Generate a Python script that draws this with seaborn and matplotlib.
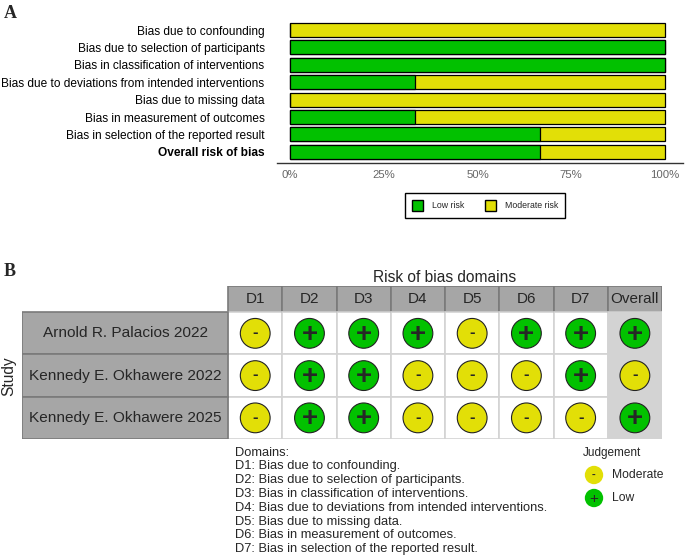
import numpy as np
import pandas as pd
import matplotlib
matplotlib.use('Agg')
import matplotlib.pyplot as plt
import seaborn as sns
from matplotlib.patches import Rectangle, Patch

# --- Data ---
domains = ['Bias due to confounding',
           'Bias due to selection of participants',
           'Bias in classification of interventions',
           'Bias due to deviations from intended interventions',
           'Bias due to missing data',
           'Bias in measurement of outcomes',
           'Bias in selection of the reported result',
           'Overall risk of bias']
columns = ['D1', 'D2', 'D3', 'D4', 'D5', 'D6', 'D7', 'Overall']
studies = ['Arnold R. Palacios 2022',
           'Kennedy E. Okhawere 2022',
           'Kennedy E. Okhawere 2025']
# judgement per study, D1..D7 + Overall
judgements = [
    ['Moderate', 'Low', 'Low', 'Low', 'Moderate', 'Low', 'Low', 'Low'],
    ['Moderate', 'Low', 'Low', 'Moderate', 'Moderate', 'Moderate', 'Low', 'Moderate'],
    ['Moderate', 'Low', 'Low', 'Moderate', 'Moderate', 'Moderate', 'Moderate', 'Low'],
]
domain_notes = ['D1: Bias due to confounding.',
                'D2: Bias due to selection of participants.',
                'D3: Bias in classification of interventions.',
                'D4: Bias due to deviations from intended interventions.',
                'D5: Bias due to missing data.',
                'D6: Bias in measurement of outcomes.',
                'D7: Bias in selection of the reported result.']

GREEN = '#02C100'
YELLOW = '#E2DF07'
colors = {'Low': GREEN, 'Moderate': YELLOW}

sns.set_style('white')
plt.rcParams['font.family'] = ['Liberation Sans', 'DejaVu Sans']

W, H = 685, 557
fig = plt.figure(figsize=(W / 100, H / 100), dpi=100)


def box(x0, y0, x1, y1):
    # pixel box -> figure fraction rect
    return [x0 / W, 1 - y1 / H, (x1 - x0) / W, (y1 - y0) / H]


# --- Panel A: summary bar plot ---
judge_arr = np.array(judgements, dtype=object)
low_frac = [(judge_arr[:, j] == 'Low').mean() for j in range(len(columns))]
summary = pd.DataFrame({'domain': domains, 'low': low_frac, 'total': 1.0})

ax_a = fig.add_axes(box(277, 19.6, 683, 163))
sns.barplot(data=summary, y='domain', x='total', color=YELLOW, orient='h',
            edgecolor='black', linewidth=0.9, width=0.8, ax=ax_a, saturation=1)
sns.barplot(data=summary, y='domain', x='low', color=GREEN, orient='h',
            edgecolor='black', linewidth=0.9, width=0.8, ax=ax_a, saturation=1)
ax_a.set_xlim(-0.0347, 1.048)
ax_a.set_ylim(7.64, -0.6)
ax_a.set_xlabel('')
ax_a.set_ylabel('')
ax_a.set_xticks([0, 0.25, 0.5, 0.75, 1.0])
ax_a.set_xticklabels(['0%', '25%', '50%', '75%', '100%'])
for s in ['top', 'right', 'left']:
    ax_a.spines[s].set_visible(False)
ax_a.spines['bottom'].set_color('#333333')
ax_a.spines['bottom'].set_linewidth(1.0)
ax_a.tick_params(axis='x', length=3, color='#555555', labelcolor='#666666',
                 labelsize=8.2, pad=2)
ax_a.tick_params(axis='y', length=0, labelsize=8.55, pad=9, labelcolor='black')
ax_a.get_yticklabels()[-1].set_fontweight('bold')

fig.legend(handles=[Patch(facecolor=GREEN, edgecolor='black', label='Low risk'),
                    Patch(facecolor=YELLOW, edgecolor='black', label='Moderate risk')],
           loc='center', bbox_to_anchor=(485 / W, 1 - 205.5 / H), ncol=2,
           fontsize=6.3, frameon=True, fancybox=False, edgecolor='black',
           handlelength=1.25, handleheight=1.7, columnspacing=2.4,
           handletextpad=1.0, borderpad=0.75, framealpha=1)

# --- Panel B: traffic light plot ---
ax_b = fig.add_axes(box(22, 286, 662, 439))
label_w = 3.8
head_h = 0.62
ax_b.set_xlim(-label_w, len(columns))
ax_b.set_ylim(len(studies), -head_h)
ax_b.axis('off')

# cell backgrounds
for j, col in enumerate(columns):
    ax_b.add_patch(Rectangle((j, -head_h), 1, head_h, facecolor='#A6A6A6',
                             edgecolor='#7A7A7A', linewidth=1.2))
    ax_b.text(j + 0.5, -head_h / 2, col, ha='center', va='center', fontsize=11)
    fill = '#D3D3D3' if col == 'Overall' else 'white'
    for i in range(len(studies)):
        ax_b.add_patch(Rectangle((j, i), 1, 1, facecolor=fill,
                                 edgecolor='#D3D3D3', linewidth=1.2))
for i, st in enumerate(studies):
    ax_b.add_patch(Rectangle((-label_w, i), label_w, 1, facecolor='#A6A6A6',
                             edgecolor='#7A7A7A', linewidth=1.2))
    ax_b.text(-label_w / 2, i + 0.5, st, ha='center', va='center', fontsize=11.1)

points = pd.DataFrame([
    {'x': j + 0.5, 'y': i + 0.5, 'judgement': judgements[i][j]}
    for i in range(len(studies)) for j in range(len(columns))
])
sns.scatterplot(data=points, x='x', y='y', hue='judgement', palette=colors,
                s=460, edgecolor='#222222', linewidth=0.8, legend=False,
                ax=ax_b, zorder=3)
for _, r in points.iterrows():
    if r['judgement'] == 'Low':
        ax_b.text(r['x'], r['y'] + 0.03, '+', ha='center', va='center',
                  fontsize=20, fontweight='semibold', zorder=4)
    else:
        ax_b.text(r['x'], r['y'] - 0.02, '-', ha='center', va='center',
                  fontsize=12, fontweight='bold', zorder=4)

fig.text(445 / W, 1 - 277 / H, 'Risk of bias domains', ha='center', va='center',
         fontsize=11.2)
fig.text(9 / W, 1 - 376 / H, 'Study', ha='center', va='center', rotation=90,
         fontsize=11.2)

fig.text(235 / W, 1 - 446.5 / H, 'Domains:\n' + '\n'.join(domain_notes),
         ha='left', va='top', fontsize=9.25, linespacing=1.2)

# judgement legend
leg_levels = ['Moderate', 'Low']
ax_l = fig.add_axes(box(583, 463.5, 683, 509.5))
ax_l.set_xlim(0, 1)
ax_l.set_ylim(len(leg_levels), 0)
ax_l.axis('off')
leg_df = pd.DataFrame({'x': 0.11, 'y': np.arange(len(leg_levels)) + 0.5,
                       'judgement': leg_levels})
sns.scatterplot(data=leg_df, x='x', y='y', hue='judgement', palette=colors,
                s=175, edgecolor='none', legend=False, ax=ax_l)
for _, r in leg_df.iterrows():
    if r['judgement'] == 'Low':
        ax_l.text(r['x'], r['y'] + 0.03, '+', ha='center', va='center',
                  fontsize=11)
    else:
        ax_l.text(r['x'], r['y'] - 0.02, '-', ha='center', va='center',
                  fontsize=8, fontweight='bold')
    ax_l.text(0.29, r['y'], r['judgement'], ha='left', va='center', fontsize=8.7)
fig.text(583 / W, 1 - 453 / H, 'Judgement', ha='left', va='center', fontsize=8.5)

# panel labels
fig.text(4 / W, 1 - 13.5 / H, 'A', ha='left', va='center', fontsize=13,
         fontweight='bold', family='Liberation Serif')
fig.text(4 / W, 1 - 272 / H, 'B', ha='left', va='center', fontsize=13,
         fontweight='bold', family='Liberation Serif')

fig.savefig('out.png', dpi=100)
